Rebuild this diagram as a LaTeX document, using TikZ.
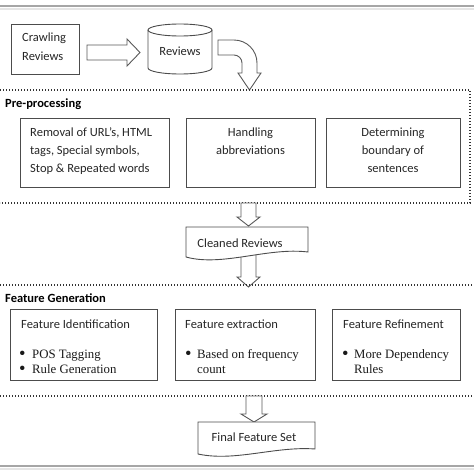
\documentclass[tikz,border=0pt]{standalone}
\usepackage{fontspec}
\usepackage{graphicx}
\setmainfont{Carlito}
\newfontfamily\serifb{Liberation Serif}
\newcommand{\bigbul}{\smash{\raisebox{-1.6pt}{\scalebox{1.45}{\textbullet}}}}
\tikzset{
 frame/.style={draw=black!70, line width=0.9pt, inner sep=0pt},
 dotrule/.style={draw=black!80, line width=1.4pt, dash pattern=on 1.4pt off 1.6pt},
 lbl/.style={inner sep=0pt, text=black!85, font=\fontsize{12.5}{15}\selectfont},
 hdr/.style={inner sep=0pt, text=black, font=\bfseries\fontsize{12.5}{15}\selectfont},
 ser/.style={inner sep=0pt, text=black!90, font=\serifb\fontsize{12.8}{15}\selectfont},
 blk/.style={draw=black!65, line width=0.9pt, fill=white, line join=miter},
}
\begin{document}
\begin{tikzpicture}[x=1pt,y=-1pt]
\useasboundingbox (0,0) rectangle (474,474);
% grey rules
\draw[black!10, line width=2pt] (0,8.5) -- (474,8.5);
\draw[black!35, line width=1.6pt] (0,6) -- (474,6);
\draw[black!10, line width=2pt] (0,468.5) -- (474,468.5);
\draw[black!35, line width=1.6pt] (0,466) -- (474,466);

% crawling reviews
\node[frame, minimum width=68pt, minimum height=50pt] (crawl) at (45,49) {};
\node[lbl, anchor=base west] (crawlA) at (22,41) {Crawling};
\node[lbl, anchor=base west] (crawlB) at (22,60) {Reviews};

% block arrow right
\draw[blk] (87,45) -- (127,45) -- (127,39) -- (140,52.5) -- (127,66) -- (127,60) -- (87,60) -- cycle;

% cylinder
\draw[frame] (148,30) -- (148,68) arc[start angle=180, end angle=0, x radius=32, y radius=6] -- (212,30);
\draw[frame] (180,30) ellipse [x radius=32, y radius=6];
\node[lbl, anchor=base] (rev) at (180,55) {Reviews};

% curved arrow
\draw[blk] (218,40) -- (234,40) arc[start angle=-90, end angle=0, radius=23] -- (257,73) -- (261,73) -- (249.5,90) -- (238,73) -- (242,73) -- (242,63) arc[start angle=0, end angle=-90, radius=8] -- (218,55) -- cycle;

% pre-processing
\draw[dotrule] (0,90) -- (470,90) -- (470,203) -- (0,203);
\node[hdr, anchor=base west] (pre) at (5,107) {Pre-processing};

\node[frame, minimum width=149pt, minimum height=69pt] (b1) at (94.5,152.5) {};
\node[frame, minimum width=129pt, minimum height=69pt] (b2) at (250.5,152.5) {};
\node[frame, minimum width=134pt, minimum height=69pt] (b3) at (393,152.5) {};

\node[lbl, anchor=base west] (b1a) at (30,136) {Removal of URL’s, HTML};
\node[lbl, anchor=base west] (b1b) at (30,154) {tags, Special symbols,};
\node[lbl, anchor=base west] (b1c) at (30,172) {Stop \& Repeated words};
\node[lbl, anchor=base] (b2a) at (250.5,136) {Handling};
\node[lbl, anchor=base] (b2b) at (250.5,154) {abbreviations};
\node[lbl, anchor=base] (b3a) at (393,136) {Determining};
\node[lbl, anchor=base] (b3b) at (393,154) {boundary of};
\node[lbl, anchor=base] (b3c) at (393,172) {sentences};

% arrows around cleaned reviews
\draw[blk] (241,203) -- (256,203) -- (256,217) -- (260,217) -- (248.5,226) -- (237,217) -- (241,217) -- cycle;
\draw[blk] (241,252) -- (256,252) -- (256,277) -- (260,277) -- (248.5,287) -- (237,277) -- (241,277) -- cycle;
\draw[frame, fill=white] (186,227) -- (308,227) -- (308,252) .. controls (268,247) and (222,267) .. (186,257) -- cycle;
\node[lbl, anchor=base] (clean) at (240,247) {Cleaned Reviews};

% feature generation
\draw[dotrule] (0,285) -- (474,285);
\draw[dotrule] (0,396) -- (474,396);
\node[hdr, anchor=base west] (fg) at (5,302) {Feature Generation};

\node[frame, minimum width=147pt, minimum height=71pt] (f1) at (83.5,344.5) {};
\node[frame, minimum width=140pt, minimum height=71pt] (f2) at (245,344.5) {};
\node[frame, minimum width=128pt, minimum height=71pt] (f3) at (396,344.5) {};

\node[lbl, anchor=base west] (f1t) at (21,328) {Feature Identification};
\node[lbl, anchor=base west] (f2t) at (185,328) {Feature extraction};
\node[lbl, anchor=base west] (f3t) at (343,328) {Feature Refinement};

\node[ser, anchor=base west] (f1a) at (19,358) {\makebox[13pt][l]{\bigbul}POS Tagging};
\node[ser, anchor=base west] (f1b) at (19,373) {\makebox[13pt][l]{\bigbul}Rule Generation};
\node[ser, anchor=base west] (f2a) at (185,358) {\makebox[12pt][l]{\bigbul}Based on frequency};
\node[ser, anchor=base west] (f2b) at (197,373) {count};
\node[ser, anchor=base west] (f3a) at (342,358) {\makebox[12pt][l]{\bigbul}More Dependency};
\node[ser, anchor=base west] (f3b) at (354,373) {Rules};

% final
\draw[blk] (246,396) -- (262,396) -- (262,414) -- (267,414) -- (254,422) -- (241,414) -- (246,414) -- cycle;
\draw[frame, fill=white] (198,422) -- (315,422) -- (315,449) .. controls (275,446) and (235,462) .. (198,454) -- cycle;
\node[lbl, anchor=base] (final) at (254,441) {Final Feature Set};
\end{tikzpicture}
\end{document}
